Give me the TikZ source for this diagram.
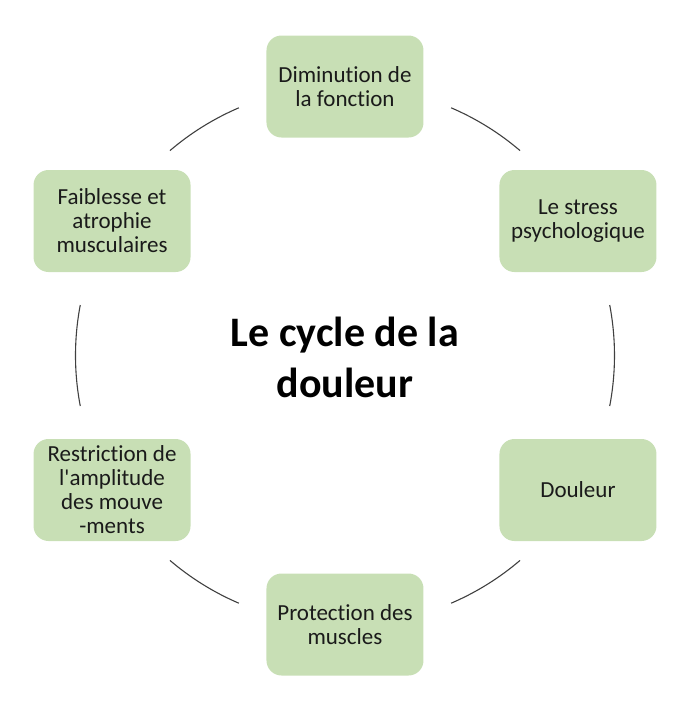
\documentclass[tikz,border=0pt]{standalone}
\usepackage{fontspec}
\setmainfont{Carlito}[Ligatures={NoCommon}]
\usepackage{xcolor}
\usepackage{tikz}
\usetikzlibrary{positioning, calc}
\definecolor{ink}  {HTML}{1A1A1A}
\definecolor{leaf} {HTML}{C8DFB5}
\definecolor{rim}  {HTML}{404040}
\newcommand{\noderad}{134.5pt}
\newcommand{\rimrad}{134.75pt}

\begin{document}
\begin{tikzpicture}[
      box/.style={fill=leaf, rounded corners=7.5pt, text=ink,
                  font=\fontsize{11.5}{12}\selectfont, align=center,
                  minimum height=51pt, minimum width=78.5pt, inner sep=2pt},
      heading/.style={font=\fontsize{21}{25.5}\selectfont\bfseries,
                  align=center, text=black},
      rimarc/.style={draw=rim, line width=0.55pt}]
    \useasboundingbox (-172.5pt,-179.25pt) rectangle (177.5pt,177.75pt);

    \node[heading] (titre) at (0,-1pt) {Le cycle de la\\douleur};
    \coordinate (mid) at (0,0);

    \node[box] (dimin)   at (90:\noderad)   {Diminution de\\la fonction};
    \node[box] (stress)  at (30:\noderad)   {Le stress\\psychologique};
    \node[box] (douleur) at (-30:\noderad)  {Douleur};
    \node[box] (protec)  at (-90:\noderad)  {Protection des\\muscles};
    \node[box] (restr)   at (-150:\noderad) {Restriction de\\l\textquotesingle amplitude\\des mouve\\-ments};
    \node[box] (faibl)   at (150:\noderad)  {Faiblesse et\\atrophie\\musculaires};

    % the ring, cut between the boxes
    \draw[rimarc] ([shift={(66.8:\rimrad)}]mid)   arc[start angle=66.8,   end angle=49.5,   radius=\rimrad];
    \draw[rimarc] ([shift={(10.8:\rimrad)}]mid)   arc[start angle=10.8,   end angle=-10.8,  radius=\rimrad];
    \draw[rimarc] ([shift={(-49.5:\rimrad)}]mid)  arc[start angle=-49.5,  end angle=-66.8,  radius=\rimrad];
    \draw[rimarc] ([shift={(-113.2:\rimrad)}]mid) arc[start angle=-113.2, end angle=-130.5, radius=\rimrad];
    \draw[rimarc] ([shift={(190.8:\rimrad)}]mid)  arc[start angle=190.8,  end angle=169.2,  radius=\rimrad];
    \draw[rimarc] ([shift={(130.5:\rimrad)}]mid)  arc[start angle=130.5,  end angle=113.2,  radius=\rimrad];
  \end{tikzpicture}
\end{document}
